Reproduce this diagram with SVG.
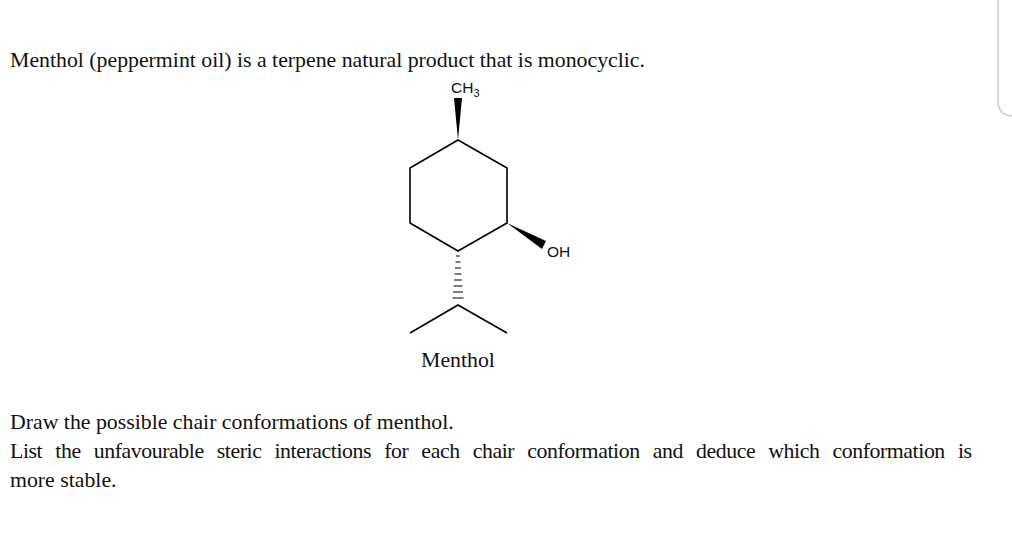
<svg xmlns="http://www.w3.org/2000/svg" width="1012" height="553" viewBox="0 0 1012 553">
<style>
.t{font-family:"Liberation Serif",serif;font-size:21.8px;fill:#111}
.a{font-family:"Liberation Sans",sans-serif;font-size:15.5px;fill:#111}
.b{stroke:#000;stroke-width:1.6;fill:none}
</style>
<rect width="1012" height="553" fill="#fff"/>
<path d="M998,0 V100 Q998,115 1012,116" fill="none" stroke="#ccc" stroke-width="1.5"/>
<text class="t" x="10" y="67">Menthol (peppermint oil) is a terpene natural product that is monocyclic.</text>
<g id="ring"><path class="b" d="M458,140 L507,168 L507,223 L458,251 L410,223 L410,168 Z"/></g>
<g id="ch3"><polygon points="458,140 454,98 462,98" fill="#000"/><text class="a" x="451" y="93">CH<tspan font-size="11" dy="4">3</tspan></text></g>
<g id="oh"><polygon points="507,223 546,241 542,249" fill="#000"/><text class="a" x="547" y="257">OH</text></g>
<g id="ipr">
<path stroke="#000" stroke-width="1.2" d="M456,256h4M455.5,262h5M455,268h6M454.5,274h7M454,280h8M453.5,286h9M453,292h10M452.5,298h11"/>
<path class="b" d="M410,333 L458,305 L507,333"/>
</g>
<text class="t" x="421" y="367">Menthol</text>
<text class="t" x="10" y="429">Draw the possible chair conformations of menthol.</text>
<text class="t" x="10" y="458" textLength="962" lengthAdjust="spacing" word-spacing="8">List the unfavourable steric interactions for each chair conformation and deduce which conformation is</text>
<text class="t" x="10" y="487">more stable.</text>
</svg>
